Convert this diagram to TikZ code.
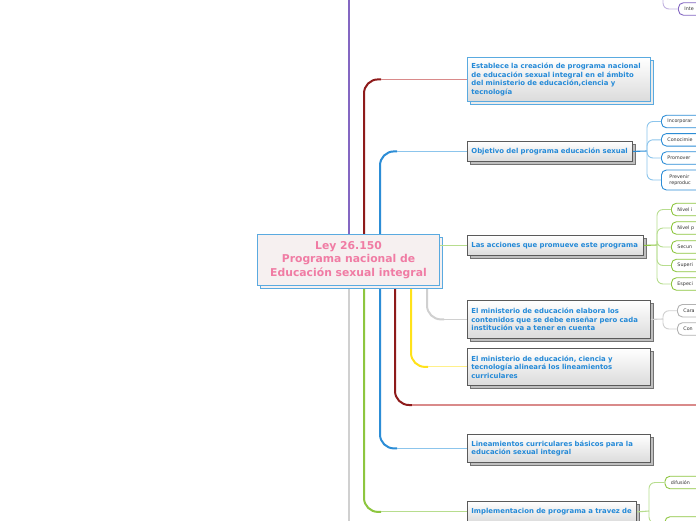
\documentclass[tikz,border=0pt]{standalone}
\usepackage{fontspec}
\setmainfont{DejaVu Sans}
\usetikzlibrary{calc,shadows}
\definecolor{cPur}{HTML}{8467C2}
\definecolor{cRed}{HTML}{8E1B1B}
\definecolor{cRedL}{HTML}{D98A8A}
\definecolor{cBlu}{HTML}{2C8DD6}
\definecolor{cBluL}{HTML}{8CC5EC}
\definecolor{cGrn}{HTML}{8DC63F}
\definecolor{cGrnL}{HTML}{B7DD8E}
\definecolor{cGry}{HTML}{D0D0D0}
\definecolor{cYel}{HTML}{FFE21A}
\definecolor{cYelL}{HTML}{FFF08A}
\definecolor{cBoxB}{HTML}{5A5A5A}
\definecolor{cCtrB}{HTML}{5AAAE0}
\definecolor{cCtrF}{HTML}{F6F0F0}
\definecolor{cPink}{HTML}{F07CA4}
\definecolor{cTxt}{HTML}{2389D7}
\definecolor{cLeafT}{HTML}{333333}
\tikzset{
  trunk/.style={line width=2pt, rounded corners=14pt},
  twig/.style={line width=1.1pt},
  brk/.style={line width=0.9pt, rounded corners=6pt},
  ctrbox/.style={draw=cCtrB, line width=1pt, fill=cCtrF, anchor=north west,
    minimum width=182pt, minimum height=51pt, inner sep=0pt, align=center,
    text=cPink, font=\fontsize{10.8}{13.5}\selectfont\bfseries,
    general shadow={fill=cCtrF, draw=cCtrB, line width=1pt, shadow xshift=3pt, shadow yshift=-3pt}},
  topicbox/.style={draw=cBoxB, line width=0.8pt, top color=white, bottom color=black!14,
    anchor=north west, inner xsep=4pt, inner ysep=0pt, align=left, text=cTxt,
    font=\fontsize{6.9}{8.5}\selectfont\bfseries,
    general shadow={fill=black!25, draw=black!55, line width=0.8pt, shadow xshift=3pt, shadow yshift=-3pt}},
  bluetopic/.style={topicbox, draw=cCtrB,
    general shadow={fill=black!8, draw=cCtrB, line width=0.8pt, shadow xshift=3pt, shadow yshift=-3pt}},
  leaf/.style={draw=#1, line width=0.9pt, fill=white, rounded corners=5pt, anchor=west,
    minimum height=12.5pt, minimum width=70pt, text width=58pt, inner xsep=6pt, inner ysep=0pt,
    align=left, text=cLeafT, font=\fontsize{4.8}{6.2}\selectfont}
}
\begin{document}
\begin{tikzpicture}[x=1pt,y=-1pt]
\clip (0,0) rectangle (696,520);
\fill[white] (0,0) rectangle (696,520);

% topic boxes
\node[bluetopic, minimum width=183pt, minimum height=44pt, text width=175pt] (b1) at (467,57)
  {Establece la creación de programa nacional\\de educación sexual integral en el ámbito\\del ministerio de educación,ciencia y\\tecnología};
\node[topicbox, minimum width=165pt, minimum height=20pt, text width=157pt] (b2) at (467,141)
  {Objetivo del programa educación sexual};
\node[topicbox, minimum width=176pt, minimum height=20pt, text width=168pt] (b3) at (467,235)
  {Las acciones que promueve este programa};
\node[topicbox, minimum width=183pt, minimum height=38pt, text width=175pt] (b4) at (467,300)
  {El ministerio de educación elabora los\\contenidos que se debe enseñar pero cada\\institución va a tener en cuenta};
\node[topicbox, minimum width=183pt, minimum height=37pt, text width=175pt] (b5) at (467,348)
  {El ministerio de educación, ciencia y\\tecnología alineará los lineamientos\\curriculares};
\node[topicbox, minimum width=183pt, minimum height=28pt, text width=175pt] (b6) at (467,434)
  {Lineamientos curriculares básicos para la\\educación sexual integral};
\node[topicbox, minimum width=169pt, minimum height=21pt, text width=161pt] (b7) at (467,501)
  {Implementacion de programa a travez de};

% main trunks
\coordinate (xP) at (349,0);
\coordinate (pTop) at (349,-5);
\coordinate (gBot) at (349,525);
\coordinate (xR1) at (364,0);
\coordinate (xB) at (380,0);
\coordinate (xR2) at (395,0);
\coordinate (xY) at (411,0);
\coordinate (xG) at (427,0);
\coordinate (rEnd) at (700,405);

\draw[cPur, line width=2pt] (pTop) -- (pTop |- 0,250);
\draw[cGry, line width=2pt] (gBot) -- (gBot |- 0,260);

% red up to b1
\draw[trunk, cRed] (xR1 |- 0,260) |- ($(b1.west -| xR1)+(17,0)$);
\draw[twig, cRedL] ($(b1.west -| xR1)+(17,0)$) -- (b1.west);
% blue up to b2
\draw[trunk, cBlu] (xB |- 0,260) |- ($(b2.west -| xB)+(17,0)$);
\draw[twig, cBluL] ($(b2.west -| xB)+(17,0)$) -- (b2.west);
% blue down to b6
\draw[trunk, cBlu] (xB |- 0,260) |- ($(b6.west -| xB)+(17,0)$);
\draw[twig, cBluL] ($(b6.west -| xB)+(17,0)$) -- (b6.west);
% green down to b7
\draw[trunk, cGrn] (xR1 |- 0,260) |- ($(b7.west -| xR1)+(17,0)$);
\draw[twig, cGrnL] ($(b7.west -| xR1)+(17,0)$) -- (b7.west);
% red down off to the right
\draw[trunk, cRed] (xR2 |- 0,260) |- ($(rEnd -| xR2)+(17,0)$);
\draw[twig, cRedL] ($(rEnd -| xR2)+(17,0)$) -- (rEnd);
% yellow to b5
\draw[trunk, cYel] (xY |- 0,260) |- ($(b5.west -| xY)+(17,0)$);
\draw[twig, cYelL] ($(b5.west -| xY)+(17,0)$) -- (b5.west);
% gray to b4
\draw[trunk, cGry] (xG |- 0,260) |- ($(b4.west -| xG)+(17,0)$);
\draw[twig, cGry] ($(b4.west -| xG)+(17,0)$) -- (b4.west);

% central node
\node[ctrbox] (ctr) at (257,234) {Ley 26.150\\Programa nacional de\\Educación sexual integral};
% green to b3
\draw[twig, cGrnL] (b3.west -| ctr.east) -- (b3.west);

% leaves of b2
\node[leaf=cBlu] (l21) at (661,121.5) {Incorporar};
\node[leaf=cBlu] (l22) at (661,139.8) {Conocimie};
\node[leaf=cBlu] (l23) at (661,158) {Promover};
\node[leaf=cBlu, minimum height=20pt, inner xsep=8pt] (l24) at (661,180) {Prevenir\\reproduc};
\coordinate (k2) at (647,151);
\draw[twig, cBlu] (b2.east) -- (k2);
\foreach \n in {l21,l22,l23,l24} \draw[brk, cBluL] (k2) |- (\n.west);

% leaves of b3
\node[leaf=cGrn] (l31) at (671,209.5) {Nivel i};
\node[leaf=cGrn] (l32) at (671,228) {Nivel p};
\node[leaf=cGrn] (l33) at (671,247) {Secun};
\node[leaf=cGrn] (l34) at (671,265.5) {Superi};
\node[leaf=cGrn] (l35) at (671,284) {Especi};
\coordinate (k3) at (657,245);
\draw[twig, cGrn] (b3.east) -- (k3);
\foreach \n in {l31,l32,l33,l34,l35} \draw[brk, cGrnL] (k3) |- (\n.west);

% leaves of b4
\node[leaf=black!30] (l41) at (677,310.7) {Cara};
\node[leaf=black!30] (l42) at (677,329) {Con};
\coordinate (k4) at (663,319);
\draw[twig, cGry] (b4.east) -- (k4);
\foreach \n in {l41,l42} \draw[brk, cGry] (k4) |- (\n.west);

% leaves of b7
\node[leaf=cGrn] (l71) at (664.5,482.5) {difusión};
\node[leaf=cGrn] (l72) at (664.5,523) {};
\coordinate (k7) at (649,511);
\draw[twig, cGrnL] (b7.east) -- (k7);
\foreach \n in {l71,l72} \draw[brk, cGrnL] (k7) |- (\n.west);

% top purple leaf
\node[leaf=cPur] (lt) at (678,9) {Inte};
\coordinate (kt) at (663,-8);
\draw[brk, cPur!50] (kt) |- (lt.west);
\end{tikzpicture}
\end{document}
